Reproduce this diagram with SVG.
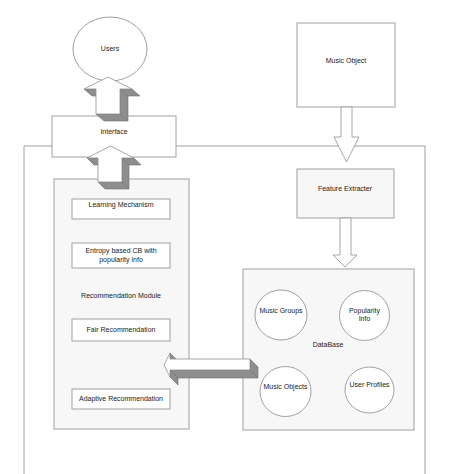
<svg xmlns="http://www.w3.org/2000/svg" width="474" height="474" viewBox="0 0 474 474">
<style>
.ln{fill:none;stroke:#a0a0a0;stroke-width:1}
.wb{fill:#ffffff;stroke:#a0a0a0;stroke-width:1}
.gb{fill:#f7f7f7;stroke:#a0a0a0;stroke-width:1}
.fr{fill:#ffffff;stroke:#909090;stroke-width:0.8;stroke-linejoin:miter}
.sd{fill:#8e8e8e;stroke:#707070;stroke-width:0.6;stroke-linejoin:round}
text{font-family:"Liberation Sans",Arial,sans-serif;font-size:7px;fill:#222;text-anchor:middle}
</style>
<rect width="474" height="474" fill="#ffffff"/>
<path id="frame" class="ln" d="M24,474 V146 H425 V474"/>
<g id="users"><ellipse class="wb" cx="110" cy="49" rx="37" ry="32"/><text x="110" y="51">Users</text></g>
<g id="interface"><rect class="wb" x="52" y="116" width="124" height="41"/><text x="114" y="134">Interface</text></g>
<g id="recommendation-module"><rect class="gb" x="54" y="179" width="135" height="250"/><text x="121" y="298">Recommendation Module</text></g>
<g id="learning-mechanism"><rect class="wb" x="72" y="199" width="98" height="20"/><text x="121" y="207">Learning Mechanism</text></g>
<g id="entropy-cb"><rect class="wb" x="72" y="243" width="98" height="25"/><text x="121" y="253">Entropy based CB with</text><text x="121" y="262">popularity info</text></g>
<g id="fair-recommendation"><rect class="wb" x="72" y="319" width="98" height="22"/><text x="121" y="332">Fair Recommendation</text></g>
<g id="adaptive-recommendation"><rect class="wb" x="72" y="389" width="98" height="20"/><text x="121" y="401">Adaptive Recommendation</text></g>
<g id="music-object"><rect class="wb" x="297" y="23" width="98" height="84"/><text x="346" y="63">Music Object</text></g>
<g id="feature-extracter"><rect class="gb" x="297" y="169" width="97" height="49"/><text x="345" y="191">Feature Extracter</text></g>
<g id="database"><rect class="gb" x="243" y="269" width="171" height="161"/><text x="328" y="347">DataBase</text></g>
<g id="music-groups"><ellipse class="wb" cx="281" cy="315" rx="26" ry="25"/><text x="281" y="313">Music Groups</text></g>
<g id="popularity-info"><ellipse class="wb" cx="364.5" cy="315.5" rx="25" ry="25"/><text x="364.5" y="313">Popularity</text><text x="364.5" y="321">Info</text></g>
<g id="music-objects"><ellipse class="wb" cx="285.5" cy="391.5" rx="25.5" ry="25"/><text x="285.5" y="389">Music Objects</text></g>
<g id="user-profiles"><ellipse class="wb" cx="369.5" cy="390" rx="24.5" ry="23"/><text x="369.5" y="387">User Profiles</text></g>
<g id="connectors">
<g id="arrow-interface-users">
<polygon class="sd" points="84,89 96,89 104,96 92,96"/>
<polygon class="sd" points="120,89 132,89 140,96 128,96"/>
<polygon class="sd" points="120,89 120,114 128,121 128,96"/>
<polygon class="sd" points="96,114 120,114 128,121 104,121"/>
<polygon class="fr" points="108,77 132,89 120,89 120,114 96,114 96,89 84,89"/>
</g>
<g id="arrow-module-interface">
<polygon class="sd" points="87,158 98,158 105,165 94,165"/>
<polygon class="sd" points="122,158 134,158 141,165 129,165"/>
<polygon class="sd" points="122,158 122,182 129,189 129,165"/>
<polygon class="sd" points="98,182 122,182 129,189 105,189"/>
<polygon class="fr" points="110.5,146 134,158 122,158 122,182 98,182 98,158 87,158"/>
</g>
<g id="arrow-database-module">
<polygon class="sd" points="170,353 178,361 178,367 170,359"/>
<polygon class="sd" points="170,370 178,378 178,385 170,377"/>
<polygon class="sd" points="170,370 250,370 258,378 178,378"/>
<polygon class="sd" points="250,359 258,367 258,378 250,370"/>
<polygon class="fr" points="164,365 170,353 170,359 250,359 250,370 170,370 170,377"/>
</g>
<polygon id="arrow-music-feature" class="fr" points="341,107 352,107 352,137 359,137 346.5,162 334,137 341,137"/>
<polygon id="arrow-feature-database" class="fr" points="340,218 351,218 351,255 357,255 345,267 333,255 340,255"/>
</g>
</svg>
